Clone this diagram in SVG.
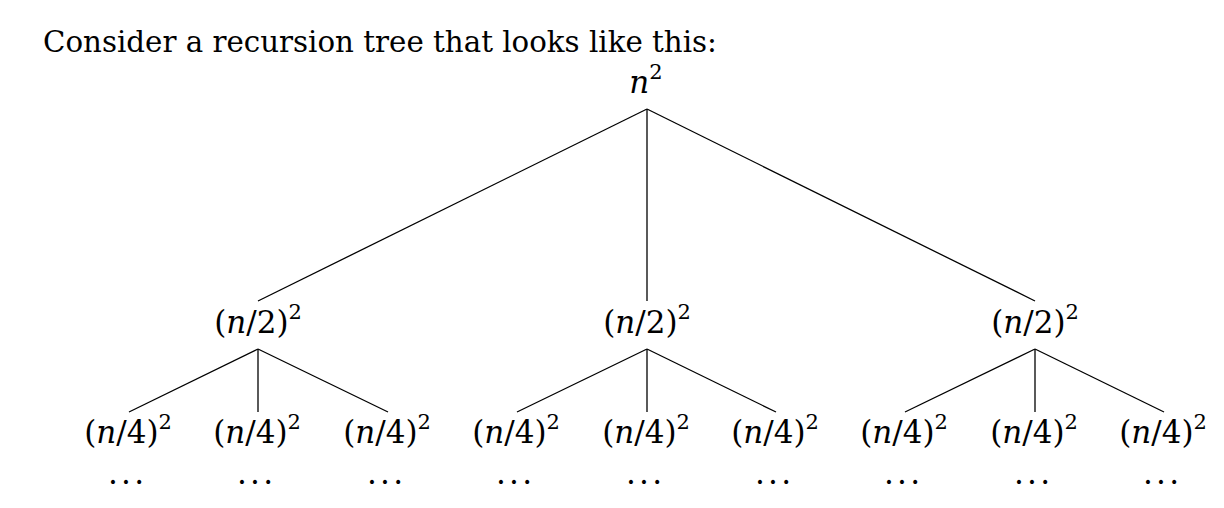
<svg xmlns="http://www.w3.org/2000/svg" width="1224" height="508" viewBox="0 0 1224 508">
<style>
text{font-family:"DejaVu Serif",serif;font-size:31px;fill:#000}
.m{text-anchor:middle}
.i{font-style:italic}
.s{font-size:21px}
line{stroke:#000;stroke-width:1.3}
</style>
<rect width="1224" height="508" fill="#fff"/>
<text x="43" y="52" style="font-size:29px" textLength="674" lengthAdjust="spacingAndGlyphs">Consider a recursion tree that looks like this:</text>
<g id="connectors">
<line x1="647" y1="109" x2="258" y2="301"/>
<line x1="647" y1="109" x2="647" y2="301"/>
<line x1="647" y1="109" x2="1035" y2="301"/>
<line x1="258" y1="349" x2="129" y2="412"/>
<line x1="258" y1="349" x2="258" y2="412"/>
<line x1="258" y1="349" x2="388" y2="412"/>
<line x1="647" y1="349" x2="517" y2="412"/>
<line x1="647" y1="349" x2="647" y2="412"/>
<line x1="647" y1="349" x2="776" y2="412"/>
<line x1="1035" y1="349" x2="905" y2="412"/>
<line x1="1035" y1="349" x2="1035" y2="412"/>
<line x1="1035" y1="349" x2="1164" y2="412"/>
</g>
<g id="root"><text class="m" x="646" y="93"><tspan class="i">n</tspan><tspan class="s" dy="-14">2</tspan></text></g>
<g id="l2a"><text class="m" x="258" y="333">(<tspan class="i">n</tspan>/2)<tspan class="s" dy="-14">2</tspan></text></g>
<g id="l2b"><text class="m" x="647" y="333">(<tspan class="i">n</tspan>/2)<tspan class="s" dy="-14">2</tspan></text></g>
<g id="l2c"><text class="m" x="1035" y="333">(<tspan class="i">n</tspan>/2)<tspan class="s" dy="-14">2</tspan></text></g>
<g id="l3a"><text class="m" x="128" y="443">(<tspan class="i">n</tspan>/4)<tspan class="s" dy="-14">2</tspan></text><text x="108" y="484" textLength="36" lengthAdjust="spacing">...</text></g>
<g id="l3b"><text class="m" x="257" y="443">(<tspan class="i">n</tspan>/4)<tspan class="s" dy="-14">2</tspan></text><text x="237" y="484" textLength="36" lengthAdjust="spacing">...</text></g>
<g id="l3c"><text class="m" x="387" y="443">(<tspan class="i">n</tspan>/4)<tspan class="s" dy="-14">2</tspan></text><text x="367" y="484" textLength="36" lengthAdjust="spacing">...</text></g>
<g id="l3d"><text class="m" x="516" y="443">(<tspan class="i">n</tspan>/4)<tspan class="s" dy="-14">2</tspan></text><text x="496" y="484" textLength="36" lengthAdjust="spacing">...</text></g>
<g id="l3e"><text class="m" x="646" y="443">(<tspan class="i">n</tspan>/4)<tspan class="s" dy="-14">2</tspan></text><text x="626" y="484" textLength="36" lengthAdjust="spacing">...</text></g>
<g id="l3f"><text class="m" x="775" y="443">(<tspan class="i">n</tspan>/4)<tspan class="s" dy="-14">2</tspan></text><text x="755" y="484" textLength="36" lengthAdjust="spacing">...</text></g>
<g id="l3g"><text class="m" x="904" y="443">(<tspan class="i">n</tspan>/4)<tspan class="s" dy="-14">2</tspan></text><text x="884" y="484" textLength="36" lengthAdjust="spacing">...</text></g>
<g id="l3h"><text class="m" x="1034" y="443">(<tspan class="i">n</tspan>/4)<tspan class="s" dy="-14">2</tspan></text><text x="1014" y="484" textLength="36" lengthAdjust="spacing">...</text></g>
<g id="l3i"><text class="m" x="1163" y="443">(<tspan class="i">n</tspan>/4)<tspan class="s" dy="-14">2</tspan></text><text x="1143" y="484" textLength="36" lengthAdjust="spacing">...</text></g>
</svg>
